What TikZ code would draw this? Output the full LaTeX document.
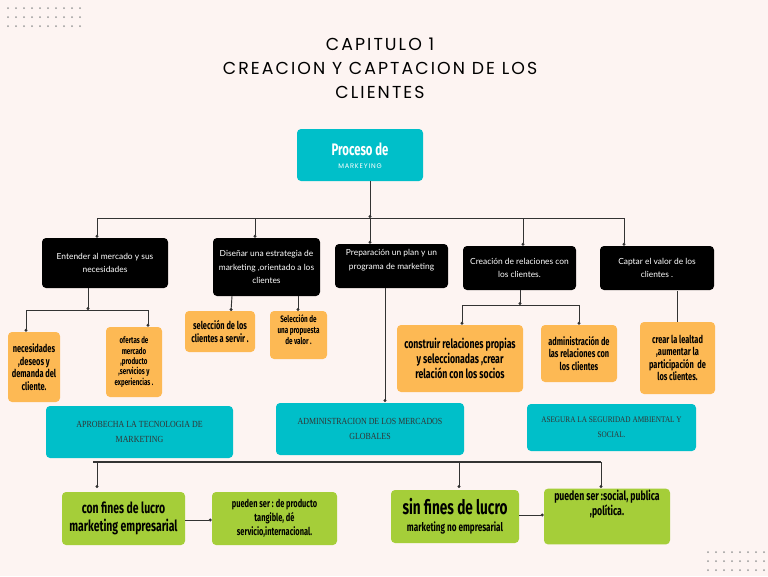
\documentclass[tikz,border=0pt]{standalone}
\usepackage{fontspec}
\setmainfont{Lato}
\newfontfamily\ttl{Poppins}[LetterSpace=12]
\newfontfamily\cond{Fira Sans}[FakeStretch=0.68]
\newfontfamily\ser{Liberation Serif}[FakeStretch=0.85]
\usetikzlibrary{arrows.meta}
\definecolor{bg}{HTML}{FDF4F2}
\definecolor{teal}{HTML}{00BFC9}
\definecolor{org}{HTML}{FDB954}
\definecolor{grn}{HTML}{A5CE39}
\definecolor{ln}{HTML}{333333}
\tikzset{
 bx/.style 2 args={minimum width=#1*0.75pt, minimum height=#2*0.75pt},
 base/.style={rounded corners=3pt, inner sep=1pt, align=center},
 blk/.style={base, fill=black, text=white, font=\fontsize{6.3}{10}\selectfont},
 orb/.style={base, fill=org, text=black, font=\cond\bfseries\fontsize{8.2}{9.4}\selectfont},
 tl/.style={base, fill=teal, text=black!80, font=\ser\fontsize{7}{11}\selectfont},
 gr/.style={base, fill=grn, text=black, font=\cond\bfseries},
 cn/.style={draw=ln, line width=0.7pt},
 ct/.style={cn, -{Circle[length=2.2pt]}},
 dot/.style={fill=black!40, draw=none},
}
\begin{document}
\begin{tikzpicture}[x=0.75pt,y=-0.75pt]
\fill[bg] (0,0) rectangle (768,576);
\useasboundingbox (0,0) rectangle (768,576);
\foreach \r in {0,1,2}{\foreach \c in {0,...,9}{\fill[dot] (8+\c*8,8+\r*9) circle (1);}}
\foreach \r in {0,1,2}{\foreach \c in {0,...,7}{\fill[dot] (708+\c*8,552+\r*9) circle (1);}}
\node[font=\ttl\fontsize{13}{18}\selectfont, align=center] (title) at (380,68) {CAPITULO 1\\CREACION Y CAPTACION DE LOS\\CLIENTES};
\node[base, fill=teal, bx={126}{52}] (proc) at (360,155) {};
\node[text=white, font=\cond\bfseries\fontsize{12.5}{12}\selectfont] (p1) at (360,149) {Proceso de};
\node[text=white, font=\ttl\fontsize{5}{5}\selectfont] (p2) at (360,166) {MARKEYING};
\node[blk,bx={126}{50}] (b1) at (105,263) {Entender al mercado y sus\\necesidades};
\node[blk,bx={107}{58}] (b2) at (266.5,267) {Diseñar una estrategia de\\marketing ,orientado a los\\clientes};
\node[blk,bx={113}{44}] (b3) at (391.5,266) {Preparación un plan y un\\programa de marketing\\};
\node[blk,bx={113}{44}] (b4) at (519.5,268) {Creación de relaciones con\\los clientes.};
\node[blk,bx={114}{44}] (b5) at (657,268) {Captar el valor de los\\clientes .};
\node[orb,bx={52}{70}] (o1) at (34,367) {necesidades\\,deseos y\\demanda del\\cliente.};
\node[orb,bx={56}{70}, font=\cond\bfseries\fontsize{6.8}{7.8}\selectfont] (o2) at (134,362) {ofertas de\\mercado\\,producto\\,servicios y\\experiencias .};
\node[orb,bx={70}{41}] (o3) at (220,331.5) {selección de los\\clientes a servir .};
\node[orb,bx={57}{48}, font=\cond\bfseries\fontsize{7}{8}\selectfont] (o4) at (298.5,335) {Selección de\\una propuesta\\de valor .\\};
\node[orb,bx={126}{67}, font=\cond\bfseries\fontsize{9.6}{11.5}\selectfont] (o5) at (460,358.5) {construir relaciones propias\\y seleccionadas ,crear\\relación con los socios};
\node[orb,bx={76}{57}] (o6) at (579,353.5) {administración de\\las relaciones con\\los clientes};
\node[orb,bx={75}{72}] (o7) at (677.5,358) {crear la lealtad\\,aumentar la\\participación\ \ de\\los clientes.};
\node[tl,bx={187}{52}] (t1) at (139.5,432) {APROBECHA LA TECNOLOGIA DE\\MARKETING};
\node[tl,bx={188}{52}] (t2) at (370,429) {ADMINISTRACION DE LOS MERCADOS\\GLOBALES};
\node[tl,bx={169}{47}, font=\ser\fontsize{6.4}{11}\selectfont] (t3) at (611.5,427.5) {ASEGURA LA SEGURIDAD AMBIENTAL Y\\SOCIAL.};
\node[gr,bx={123}{53}, font=\cond\bfseries\fontsize{11.5}{14}\selectfont] (g1) at (123.5,518.5) {con fines de lucro\\marketing empresarial};
\node[gr,bx={125}{53}, font=\cond\bfseries\fontsize{8.2}{10.5}\selectfont] (g2) at (274.5,518.5) {pueden ser : de producto\\tangible, dé\\servicio,internacional.};
\node[gr,bx={128}{53}, align=center] (g3) at (455,516.5) {{\fontsize{15}{16}\selectfont sin fines de lucro}\\[1pt]{\fontsize{9}{10}\selectfont marketing no empresarial}};
\node[gr,bx={126}{53}, font=\cond\bfseries\fontsize{9.6}{11}\selectfont] (g4) at (607,516.5) {pueden ser :social, publica\\,política.\\[10pt]};
% top tree
\coordinate (j0) at (370,218);
\coordinate (ja) at (97,218);
\coordinate (jb) at (624,218);
\draw[ct] (370,181) -- (j0);
\draw[cn] (ja) -- (jb);
\draw[ct] (ja) -- (ja |- b1.north);
\coordinate (jc) at (255,218); \draw[ct] (jc) -- (jc |- b2.north);
\draw[ct] (j0) -- (j0 |- b3.north);
\coordinate (jd) at (523,218); \draw[ct] (jd) -- (jd |- b4.north);
\draw[ct] (jb) -- (jb |- b5.north);
% b1
\coordinate (k0) at (88,310); \coordinate (k1) at (26,310); \coordinate (k2) at (148,310);
\draw[ct] (88,288) -- (k0);
\draw[cn] (k1) -- (k2);
\draw[ct] (k1) -- (k1 |- o1.north);
\draw[ct] (k2) -- (k2 |- o2.north);
% b2
\draw[ct] (232,296) -- (231,311);
\draw[ct] (298,296) -- (298,311);
% b3
\draw[ct] (385,288) -- (385,402);
% b4
\coordinate (m0) at (520,305); \coordinate (m1) at (462,305); \coordinate (m2) at (579,305);
\draw[ct] (520,290) -- (m0);
\draw[cn] (m1) -- (m2);
\draw[ct] (m1) -- (m1 |- o5.north);
\draw[ct] (m2) -- (m2 |- o6.north);
% b5
\draw[cn] (677,291) -- (677,322);
% bottom
\coordinate (n1) at (93,462); \coordinate (n2) at (601,462);
\draw[cn, line width=1pt] (n1) -- (n2);
\coordinate (q1) at (97,462); \draw[ct] (q1) -- (97,488);
\coordinate (q2) at (459,462); \draw[ct] (q2) -- (459,488);
\draw[ct] (n2) -- (601,488);
\draw[ct] (g1.east |- 0,520) -- (g2.west |- 0,520);
\draw[ct] (g3.east |- 0,515) -- (g4.west |- 0,515);
\end{tikzpicture}
\end{document}
